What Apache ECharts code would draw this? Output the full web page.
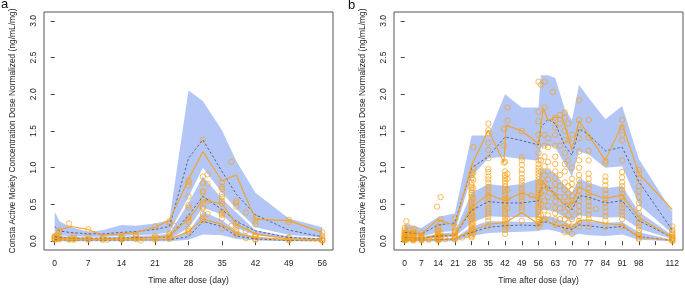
<!DOCTYPE html>
<html>
<head>
<meta charset="utf-8">
<script src="https://cdn.jsdelivr.net/npm/echarts@6/dist/echarts.min.js"></script>
<style>
  html, body { margin: 0; padding: 0; background: #fff; }
  #chart { width: 685px; height: 290px; }
</style>
</head>
<body>
<div id="chart"></div>
<script>
// ---- panel a (Consta, first dose) ----
const simDaysA = [0, 1, 3, 7, 10, 14, 17, 21, 24, 28, 31, 35, 38, 42, 49, 56];
const bandHiUpA = [0.40, 0.27, 0.20, 0.13, 0.15, 0.22, 0.21, 0.24, 0.29, 2.05, 1.91, 1.51, 1.09, 0.66, 0.31, 0.19];
const bandLoUpA = [0.10, 0.08, 0.07, 0.06, 0.06, 0.07, 0.08, 0.09, 0.12, 0.60, 1.00, 0.66, 0.44, 0.19, 0.085, 0.05];
const bandHiMidA = [0.09, 0.07, 0.06, 0.05, 0.05, 0.06, 0.07, 0.08, 0.10, 0.52, 0.88, 0.58, 0.39, 0.15, 0.065, 0.035];
const bandLoMidA = [0.03, 0.03, 0.02, 0.02, 0.02, 0.02, 0.03, 0.03, 0.03, 0.18, 0.46, 0.36, 0.18, 0.08, 0.03, 0.015];
const bandHiLowA = [0.025, 0.025, 0.02, 0.015, 0.015, 0.015, 0.02, 0.02, 0.025, 0.13, 0.40, 0.29, 0.14, 0.06, 0.025, 0.012];
const bandLoLowA = [0, 0, 0, 0, 0, 0, 0, 0, 0, 0.02, 0.09, 0.08, 0.03, 0.01, 0, 0];
const simP95A = [0.20, 0.14, 0.12, 0.10, 0.10, 0.12, 0.13, 0.16, 0.20, 1.13, 1.38, 0.95, 0.64, 0.36, 0.15, 0.06];
const simP50A = [0.06, 0.05, 0.04, 0.04, 0.04, 0.04, 0.05, 0.05, 0.06, 0.35, 0.61, 0.43, 0.27, 0.14, 0.05, 0.03];
const simP05A = [0.02, 0.02, 0.015, 0.015, 0.015, 0.015, 0.02, 0.02, 0.02, 0.06, 0.27, 0.20, 0.07, 0.03, 0.01, 0.005];

const obsDaysA = [0.5, 3.5, 7, 10, 14, 17, 21, 24, 28, 31, 35, 38, 42, 49, 56];
const obsP95A = [0.15, 0.20, 0.16, 0.08, 0.10, 0.12, 0.19, 0.28, 0.84, 1.22, 0.82, 0.90, 0.30, 0.28, 0.12];
const obsP50A = [0.04, 0.03, 0.03, 0.03, 0.03, 0.04, 0.05, 0.07, 0.30, 0.56, 0.51, 0.23, 0.10, 0.03, 0.02];
const obsP05A = [0.02, 0.02, 0.02, 0.02, 0.02, 0.02, 0.02, 0.03, 0.13, 0.30, 0.23, 0.10, 0.05, 0.02, 0.01];

const pointsA = [
  [0, [0.02, 0.03, 0.04, 0.05, 0.06, 0.07]],
  [0.5, [0.03, 0.04, 0.05, 0.08]],
  [1, [0.03, 0.04, 0.06, 0.13, 0.15]],
  [3, [0.02, 0.03, 0.24]],
  [4, [0.02, 0.03, 0.04, 0.07]],
  [7, [0.02, 0.03, 0.06, 0.16]],
  [10, [0.02, 0.03, 0.05]],
  [11, [0.02]],
  [14, [0.02, 0.03, 0.04, 0.05, 0.06]],
  [17, [0.03, 0.05, 0.07, 0.09]],
  [18, [0.01]],
  [21, [0.02, 0.04, 0.05, 0.07, 0.20]],
  [24, [0.03, 0.05, 0.07, 0.09, 0.11, 0.25, 0.27]],
  [25, [0.21]],
  [28, [0.12, 0.14, 0.17, 0.26, 0.29, 0.32, 0.46, 0.49, 0.61, 0.76, 0.80, 0.83]],
  [31, [0.28, 0.31, 0.37, 0.45, 0.47, 0.56, 0.66, 0.68, 0.79, 0.88, 1.38]],
  [32, [0.37, 0.55, 0.78, 0.91]],
  [35, [0.17, 0.31, 0.36, 0.38, 0.40, 0.51, 0.55, 0.60, 0.64, 0.71, 0.74, 0.80]],
  [37, [0.21, 1.08]],
  [38, [0.09, 0.12, 0.15, 0.20, 0.25, 0.47, 0.52, 0.55]],
  [40, [0.04, 0.14, 0.39]],
  [42, [0.02, 0.03, 0.06, 0.07, 0.08, 0.23, 0.27, 0.32]],
  [49, [0.01, 0.02, 0.04, 0.05, 0.26, 0.29]],
  [56, [0.005, 0.01, 0.02, 0.04, 0.07, 0.12]]
];

// ---- panel b (Consta, multiple doses) ----
const simDaysB = [0, 3.5, 7, 14, 21, 28, 35, 42, 49, 56, 57, 60, 63, 67, 70, 73, 77, 84, 91, 98, 112];
const bandHiUpB = [0.23, 0.21, 0.18, 0.33, 0.38, 1.44, 1.44, 2.00, 1.82, 1.82, 2.26, 2.26, 2.22, 1.80, 1.65, 2.13, 1.95, 1.66, 1.84, 1.12, 0.40];
const bandLoUpB = [0.08, 0.07, 0.06, 0.12, 0.14, 0.88, 1.13, 1.15, 1.12, 1.10, 1.28, 1.30, 1.28, 1.05, 0.88, 1.22, 1.18, 1.00, 1.02, 0.50, 0.10];
const bandHiMidB = [0.07, 0.06, 0.05, 0.10, 0.12, 0.66, 0.78, 0.75, 0.78, 0.85, 0.98, 0.98, 0.92, 0.75, 0.66, 0.85, 0.80, 0.72, 0.75, 0.40, 0.08];
const bandLoMidB = [0.03, 0.03, 0.02, 0.05, 0.06, 0.25, 0.34, 0.33, 0.33, 0.32, 0.42, 0.42, 0.40, 0.32, 0.28, 0.35, 0.34, 0.32, 0.33, 0.17, 0.03];
const bandHiLowB = [0.02, 0.02, 0.015, 0.03, 0.04, 0.20, 0.27, 0.27, 0.26, 0.26, 0.34, 0.34, 0.32, 0.26, 0.22, 0.28, 0.27, 0.25, 0.26, 0.12, 0.02];
const bandLoLowB = [0, 0, 0, 0, 0, 0.07, 0.11, 0.12, 0.13, 0.14, 0.15, 0.16, 0.14, 0.10, 0.07, 0.10, 0.08, 0.07, 0.09, 0.02, 0];
const simP95B = [0.12, 0.11, 0.10, 0.22, 0.25, 1.00, 1.15, 1.42, 1.37, 1.31, 1.55, 1.66, 1.60, 1.30, 1.17, 1.53, 1.45, 1.23, 1.28, 0.81, 0.15];
const simP50B = [0.05, 0.05, 0.04, 0.07, 0.08, 0.42, 0.54, 0.52, 0.52, 0.55, 0.72, 0.75, 0.62, 0.50, 0.43, 0.62, 0.60, 0.52, 0.55, 0.28, 0.05];
const simP05B = [0.02, 0.02, 0.02, 0.02, 0.03, 0.12, 0.19, 0.21, 0.22, 0.21, 0.26, 0.26, 0.22, 0.18, 0.16, 0.22, 0.21, 0.18, 0.20, 0.06, 0.01];

const obsDays95B = [0, 3.5, 7, 14, 21, 28, 35, 41.5, 42.5, 49, 56, 58, 60, 63, 66, 70, 73, 77, 84, 91, 98, 112];
const obsP95B = [0.14, 0.12, 0.10, 0.30, 0.21, 1.03, 1.51, 1.07, 1.58, 1.50, 1.33, 1.81, 1.64, 1.69, 1.68, 1.24, 1.64, 1.44, 1.10, 1.59, 0.92, 0.43];
const obsDaysB = [0, 3.5, 7, 14, 21, 28, 35, 42, 49, 56, 58, 60, 63, 66, 70, 73, 77, 84, 91, 98, 112];
const obsP50B = [0.06, 0.05, 0.04, 0.09, 0.08, 0.46, 0.64, 0.55, 0.66, 0.57, 0.82, 0.70, 0.64, 0.52, 0.50, 0.75, 0.66, 0.58, 0.63, 0.32, 0.05];
const obsP05B = [0.02, 0.02, 0.02, 0.03, 0.03, 0.14, 0.23, 0.25, 0.39, 0.23, 0.32, 0.27, 0.21, 0.22, 0.19, 0.28, 0.29, 0.24, 0.22, 0.05, 0.01];

const pointsB = [
  [0, [0.01, 0.02, 0.03, 0.035, 0.04, 0.05, 0.055, 0.06, 0.07, 0.08, 0.09, 0.10, 0.11, 0.13, 0.15, 0.18]],
  [0.7, [0.02, 0.04, 0.06, 0.09, 0.12, 0.27]],
  [1.2, [0.03, 0.05, 0.08, 0.20]],
  [3.5, [0.01, 0.02, 0.03, 0.04, 0.05, 0.06, 0.08, 0.10, 0.12, 0.15]],
  [4, [0.02, 0.04, 0.07, 0.11, 0.17]],
  [7, [0.01, 0.02, 0.03, 0.04, 0.05, 0.06, 0.08, 0.11]],
  [10, [0.02, 0.03]],
  [13.5, [0.03, 0.06, 0.47]],
  [14, [0.01, 0.02, 0.03, 0.04, 0.05, 0.06, 0.07, 0.08, 0.09, 0.10, 0.12, 0.14, 0.16, 0.20]],
  [15, [0.03, 0.07, 0.12, 0.25, 0.30, 0.60]],
  [17, [0.03]],
  [21, [0.02, 0.04, 0.05, 0.07, 0.09, 0.11, 0.13, 0.16, 0.20, 0.31]],
  [24, [0.05]],
  [26, [0.08]],
  [28, [0.05, 0.07, 0.09, 0.12, 0.14, 0.17, 0.19, 0.22, 0.24, 0.27, 0.30, 0.32, 0.35, 0.38, 0.41, 0.44, 0.47, 0.50, 0.53, 0.56, 0.60, 0.63, 0.66, 0.70, 0.73, 0.76, 0.80, 0.86, 0.90, 0.92]],
  [28.7, [0.10, 0.16, 0.25, 0.34, 0.45, 0.58, 0.72, 0.84, 0.93, 1.00, 1.28]],
  [35, [0.20, 0.28, 0.33, 0.37, 0.41, 0.45, 0.50, 0.54, 0.58, 0.62, 0.66, 0.70, 0.74, 0.79, 0.84, 0.88, 0.94, 0.98, 1.13, 1.24, 1.34, 1.47, 1.51, 1.60]],
  [41.5, [1.07, 1.30, 1.53]],
  [42, [0.10, 0.15, 0.20, 0.24, 0.28, 0.32, 0.36, 0.40, 0.44, 0.48, 0.52, 0.55, 0.58, 0.62, 0.66, 0.70, 0.74, 0.78, 0.82, 0.86, 0.90, 0.95, 1.08]],
  [43, [0.20, 0.30, 0.45, 0.58, 0.70, 0.85, 0.92, 1.64, 1.82]],
  [49, [0.28, 0.42, 0.46, 0.51, 0.55, 0.60, 0.64, 0.68, 0.72, 0.77, 0.82, 0.86, 0.92, 0.97, 1.04, 1.10, 1.14, 1.50]],
  [53, [0.62]],
  [56, [0.20, 0.23, 0.26, 0.30, 0.33, 0.36, 0.40, 0.43, 0.46, 0.50, 0.53, 0.56, 0.60, 0.63, 0.66, 0.70, 0.73, 0.76, 0.80, 0.84, 0.88, 0.92, 0.96, 1.00, 1.05, 1.10, 1.20, 1.30, 1.45, 1.63, 1.76, 2.17]],
  [57, [0.25, 0.35, 0.50, 0.65, 0.80, 0.95, 1.10, 2.13]],
  [58.5, [0.30, 0.42, 0.55, 0.68, 0.80, 0.90, 1.02, 1.15, 1.30, 1.45, 1.82, 2.17]],
  [60, [0.35, 0.48, 0.60, 0.72, 0.84, 0.95, 1.08, 1.28, 1.40]],
  [62, [2.03]],
  [63, [0.22, 0.30, 0.38, 0.46, 0.54, 0.62, 0.70, 0.78, 0.86, 0.95, 1.05, 1.15, 1.30, 1.45, 1.55, 1.65, 1.68]],
  [65, [0.30, 0.45, 0.60, 0.75, 0.90, 1.30, 1.60, 1.72]],
  [67, [0.12, 0.20, 0.30, 0.40, 0.50, 0.60, 0.70, 0.80, 0.95, 1.05, 1.20, 1.38, 1.50, 1.68, 1.75]],
  [68.5, [0.15, 0.25, 0.35, 0.45, 0.55, 0.65, 0.75, 1.10, 1.37, 1.60]],
  [70, [0.10, 0.20, 0.30, 0.40, 0.50, 0.55, 0.62, 0.70, 0.78, 0.85, 1.00, 1.45]],
  [73, [0.20, 0.27, 0.34, 0.41, 0.48, 0.55, 0.62, 0.69, 0.76, 0.83, 0.90, 1.00, 1.10, 1.22, 1.40, 1.52, 1.65, 1.92]],
  [77, [0.20, 0.30, 0.36, 0.42, 0.48, 0.54, 0.60, 0.66, 0.72, 0.78, 0.85, 0.92, 1.10, 1.23, 1.41, 1.65]],
  [80, [0.44]],
  [84, [0.19, 0.28, 0.34, 0.40, 0.46, 0.52, 0.58, 0.64, 0.70, 0.76, 0.82, 0.88, 1.06, 1.09]],
  [91, [0.20, 0.30, 0.35, 0.40, 0.45, 0.50, 0.55, 0.60, 0.65, 0.70, 0.75, 0.80, 0.87, 0.94, 1.10, 1.37, 1.45, 1.55, 1.65]],
  [98, [0.03, 0.05, 0.08, 0.11, 0.15, 0.20, 0.25, 0.30, 0.38, 0.45, 0.52, 0.60, 0.68, 0.75, 0.85, 0.92, 0.97]],
  [112, [0.00, 0.01, 0.02, 0.03, 0.04, 0.05, 0.06, 0.08, 0.10, 0.12, 0.15, 0.20]]
];

const ticksA = [0, 7, 14, 21, 28, 35, 42, 49, 56];
const ticksB = [0, 7, 14, 21, 28, 35, 42, 49, 56, 63, 70, 77, 84, 91, 98, 105, 112];
const labelsB = [0, 7, 14, 21, 28, 35, 42, 49, 56, 63, 70, 77, 84, 91, 98, 112];
const yTicks = [0, 0.5, 1.0, 1.5, 2.0, 2.5, 3.0];

const BAND = "#b4c6f6";
const ORANGE = "#f7a21b";
const DASH = "#56658a";
const FONT = "Liberation Sans";
const Y_NAME = "Consta Active Moiety Concentration Dose Normalized (ng/mL/mg)";
const X_NAME = "Time after dose (day)";

const chart = echarts.init(document.getElementById("chart"), null, { renderer: "canvas" });

function zip(xs, ys){
  return xs.map((x, i) => [x, ys[i]]);
}

function bandSeries(idx, days, hi, lo){
  return {
    type: "custom",
    xAxisIndex: idx,
    yAxisIndex: idx,
    clip: true,
    silent: true,
    z: 1,
    data: [[days[0], hi[0]]],
    renderItem: (params, api) => {
      const top = days.map((d, i) => api.coord([d, hi[i]]));
      const bottom = days.map((d, i) => api.coord([d, lo[i]])).reverse();
      return {
        type: "polygon",
        shape: { points: top.concat(bottom) },
        style: { fill: BAND }
      };
    }
  };
}

function lineSeries(idx, xs, ys, dashed){
  return {
    type: "line",
    xAxisIndex: idx,
    yAxisIndex: idx,
    data: zip(xs, ys),
    showSymbol: false,
    silent: true,
    z: dashed ? 4 : 5,
    lineStyle: dashed
      ? { color: DASH, width: 1, type: [2.5, 2] }
      : { color: ORANGE, width: 1.1 }
  };
}

function pointSeries(idx, cols){
  const data = [];
  cols.forEach(([day, vals]) => vals.forEach((v) => data.push([day, v])));
  return {
    type: "scatter",
    xAxisIndex: idx,
    yAxisIndex: idx,
    data,
    symbol: "circle",
    symbolSize: 5.4,
    silent: true,
    z: 3,
    itemStyle: { color: "rgba(0,0,0,0)", borderColor: ORANGE, borderWidth: 0.9, opacity: 0.8 }
  };
}

function xAxis(idx, min, max, ticks, labels){
  return {
    type: "value",
    gridIndex: idx,
    min, max,
    name: X_NAME,
    nameLocation: "middle",
    nameGap: 26,
    nameTextStyle: { fontFamily: FONT, fontSize: 8.5, color: "#222" },
    axisLine: { show: false },
    splitLine: { show: false },
    axisTick: { show: true, length: 4, customValues: ticks, lineStyle: { color: "#444" } },
    axisLabel: {
      customValues: labels,
      fontFamily: FONT, fontSize: 8.5, color: "#222", margin: 9
    }
  };
}

function yAxis(idx){
  return {
    type: "value",
    gridIndex: idx,
    min: -0.12, max: 3.12,
    name: Y_NAME,
    nameLocation: "middle",
    nameGap: 27,
    nameRotate: 90,
    nameTextStyle: { fontFamily: FONT, fontSize: 8.4, color: "#222" },
    axisLine: { show: false },
    splitLine: { show: false },
    axisTick: { show: true, length: 4, customValues: yTicks, lineStyle: { color: "#444" } },
    axisLabel: {
      customValues: yTicks,
      rotate: 90,
      formatter: (v) => v.toFixed(1),
      fontFamily: FONT, fontSize: 8.5, color: "#222", margin: 6
    }
  };
}

const gridBase = { show: true, top: 12, height: 241, width: 289, borderColor: "#555", borderWidth: 1, backgroundColor: "transparent" };

chart.setOption({
  animation: false,
  backgroundColor: "#fff",
  grid: [
    Object.assign({}, gridBase, { left: 44 }),
    Object.assign({}, gridBase, { left: 394 })
  ],
  xAxis: [
    xAxis(0, -2.24, 58.24, ticksA, ticksA),
    xAxis(1, -4.48, 116.48, ticksB, labelsB)
  ],
  yAxis: [yAxis(0), yAxis(1)],
  graphic: [
    { type: "text", left: 1, top: -2, style: { text: "a", fontFamily: FONT, fontSize: 13, fill: "#111" } },
    { type: "text", left: 348, top: -1, style: { text: "b", fontFamily: FONT, fontSize: 13, fill: "#111" } }
  ],
  series: [
    bandSeries(0, simDaysA, bandHiUpA, bandLoUpA),
    bandSeries(0, simDaysA, bandHiMidA, bandLoMidA),
    bandSeries(0, simDaysA, bandHiLowA, bandLoLowA),
    pointSeries(0, pointsA),
    lineSeries(0, simDaysA, simP95A, true),
    lineSeries(0, simDaysA, simP50A, true),
    lineSeries(0, simDaysA, simP05A, true),
    lineSeries(0, obsDaysA, obsP95A, false),
    lineSeries(0, obsDaysA, obsP50A, false),
    lineSeries(0, obsDaysA, obsP05A, false),

    bandSeries(1, simDaysB, bandHiUpB, bandLoUpB),
    bandSeries(1, simDaysB, bandHiMidB, bandLoMidB),
    bandSeries(1, simDaysB, bandHiLowB, bandLoLowB),
    pointSeries(1, pointsB),
    lineSeries(1, simDaysB, simP95B, true),
    lineSeries(1, simDaysB, simP50B, true),
    lineSeries(1, simDaysB, simP05B, true),
    lineSeries(1, obsDays95B, obsP95B, false),
    lineSeries(1, obsDaysB, obsP50B, false),
    lineSeries(1, obsDaysB, obsP05B, false)
  ]
});
</script>
</body>
</html>
